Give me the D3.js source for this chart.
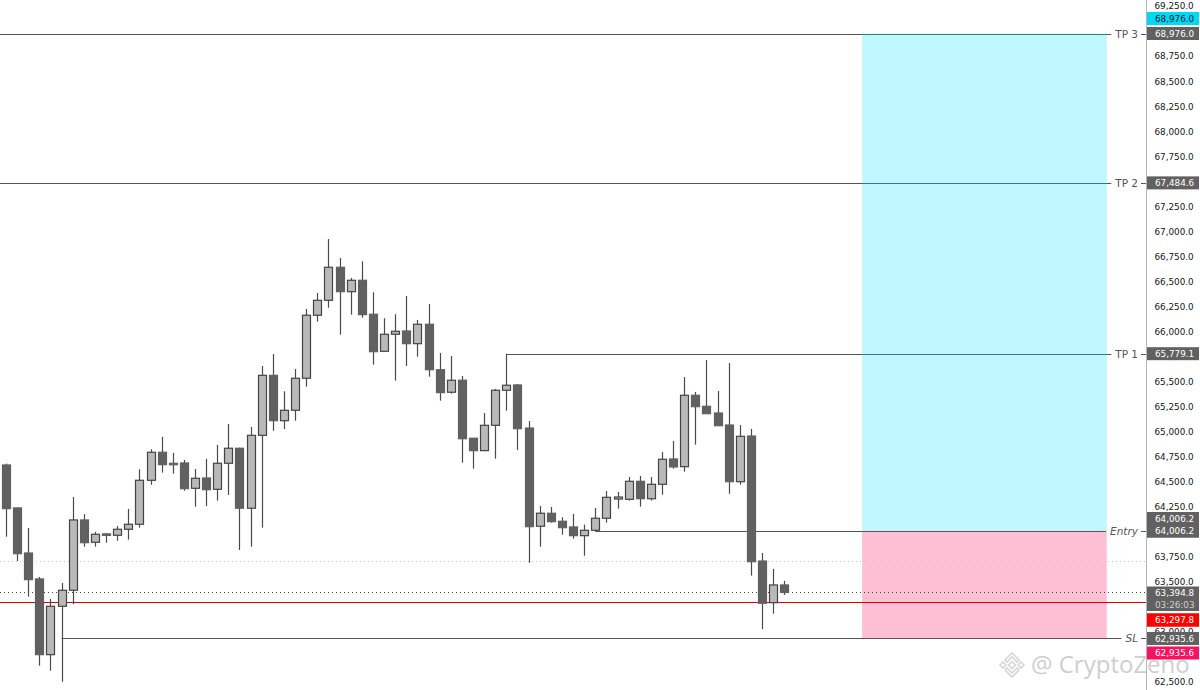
<!DOCTYPE html>
<html><head><meta charset="utf-8">
<script src="https://cdn.jsdelivr.net/npm/d3@7/dist/d3.min.js"></script>
<style>html,body{margin:0;padding:0;background:#fff;overflow:hidden}</style>
</head><body><svg id="c" width="1200" height="690"></svg>
<script>
// ---- DATA ----
const opens  = [64668,64239,63789,63530,62774,63257,63417,64119,63896,63980,63966,64026,64076,64515,64795,64685,64688,64435,64538,64425,64685,64835,64236,64964,65563,65110,65214,65534,66163,66312,66642,66398,66512,66173,65803,65973,66006,65879,66073,65619,65394,65514,64935,64811,65064,65414,65467,65037,64056,64186,64106,64049,63962,64016,64136,64328,64325,64505,64331,64475,64728,64651,65364,65254,65187,65067,64501,64957,63709,63293,63470];
const highs  = [64681,64245,64039,63550,63330,63490,64348,64176,64000,63986,64059,64229,64625,64825,64948,64788,64718,64628,64728,64868,65077,64840,65047,65656,65776,65404,65626,66225,66385,66924,66735,66535,66702,66392,66133,66173,66355,66116,66275,65786,65756,65556,64935,65187,65427,65779,65477,65107,64259,64249,64146,64179,64072,64239,64408,64398,64548,64558,64548,64798,64908,65546,65397,65716,65407,65686,65067,65027,63789,63630,63510];
const lows   = [63952,63709,63353,62664,62614,62504,63277,63852,63852,63892,63911,63922,64042,64471,64591,64581,64411,64252,64259,64312,64368,63819,63852,64042,65010,65027,65110,65450,66099,66238,65969,66169,66139,65669,65800,65510,65656,65749,65549,65310,65380,64691,64631,64811,64731,65210,64818,63692,63852,64092,63972,63932,63762,64006,64092,64232,64312,64252,64312,64371,64631,64601,64871,65180,65060,64381,64471,63563,63028,63183,63370];
const closes = [64232,63782,63523,62774,63257,63417,64119,63892,63976,63975,64026,64076,64515,64795,64671,64680,64431,64535,64421,64685,64835,64236,64964,65563,65110,65214,65534,66163,66312,66642,66398,66512,66169,65799,65973,66003,65879,66073,65619,65390,65514,64930,64811,65064,65414,65464,65030,64052,64186,64102,64042,63962,64016,64136,64345,64348,64505,64331,64475,64725,64648,65364,65250,65180,65060,64501,64954,63702,63287,63470,63394.8];

const priceTicks = [62500,62750,63000,63250,63500,63750,64000,64250,64500,64750,65000,65250,65500,65750,66000,66250,66500,66750,67000,67250,67500,67750,68000,68250,68500,68750,69000,69250];

const levelNames  = ["TP 3","TP 2","TP 1","Entry","SL"];
const levelPrices = [68976.0, 67484.6, 65779.1, 64006.2, 62935.6];
const levelStart  = [null, null, 45, 53, 5];   // candle index where the level line starts
const levelItalic = [false,false,false,true,true];

const currentPrice = 63394.8;
const countdown    = "03:26:03";
const redPrice     = 63297.8;
const greyDotPrice = 63710;
const boxStartIdx = 77, boxEndIdx = 99;
const watermark = "@ CryptoZeno";

// ---- SCALES ----
const svg = d3.select("#c");
const axisX = 1146.5;
const y = d3.scaleLinear().domain([62500, 68976]).range([682.1, 33.5]);
const x = d3.scaleLinear().domain([0, 70]).range([6, 784.3]);
const fmt = d3.format(",.1f");
const FONT = "DejaVu Sans";

// ---- Level lines (under box) ----
const labelRight = 1138;
const lblG = svg.append("g");
levelNames.forEach((n,i)=>{
  const yy = Math.round(y(levelPrices[i]))+0.5;
  const t = lblG.append("text").attr("x",labelRight).attr("y",yy).attr("dy","0.35em")
    .attr("text-anchor","end").attr("font-family",FONT).attr("font-size",10.5)
    .attr("font-style",levelItalic[i]?"italic":"normal").attr("fill","#555").text(n);
  const w = t.node().getComputedTextLength();
  const x0 = levelStart[i]==null?0:x(levelStart[i]);
  svg.append("line").attr("x1",x0).attr("x2",labelRight-w-4).attr("y1",yy).attr("y2",yy)
    .attr("stroke","#555").attr("stroke-width",1);
  svg.append("line").attr("x1",1141).attr("x2",axisX).attr("y1",yy).attr("y2",yy)
    .attr("stroke","#555").attr("stroke-width",1);
});

// ---- Position box ----
svg.append("rect").attr("x",x(boxStartIdx)).attr("width",x(boxEndIdx)-x(boxStartIdx))
  .attr("y",y(levelPrices[0])).attr("height",y(levelPrices[3])-y(levelPrices[0]))
  .attr("fill","rgb(0,225,252)").attr("fill-opacity",0.25);
svg.append("rect").attr("x",x(boxStartIdx)).attr("width",x(boxEndIdx)-x(boxStartIdx))
  .attr("y",y(levelPrices[3])).attr("height",y(levelPrices[4])-y(levelPrices[3]))
  .attr("fill","rgb(250,0,84)").attr("fill-opacity",0.25);

// ---- Price lines ----
const yCur = Math.round(y(currentPrice))+0.5;
svg.append("line").attr("x1",0).attr("x2",axisX).attr("y1",Math.round(y(greyDotPrice))+0.5).attr("y2",Math.round(y(greyDotPrice))+0.5)
  .attr("stroke","#c4c4c4").attr("stroke-dasharray","1,3");
svg.append("line").attr("x1",0).attr("x2",axisX).attr("y1",yCur).attr("y2",yCur)
  .attr("stroke","#444").attr("stroke-dasharray","1,3");
svg.append("line").attr("x1",0).attr("x2",axisX).attr("y1",Math.round(y(redPrice))+0.5).attr("y2",Math.round(y(redPrice))+0.5)
  .attr("stroke","#e00000").attr("stroke-width",1);

// ---- Candles ----
const idx = d3.range(opens.length);
const cg = svg.append("g");
cg.selectAll("line.w").data(idx).join("line")
  .attr("x1",i=>Math.round(x(i))+0.5).attr("x2",i=>Math.round(x(i))+0.5)
  .attr("y1",i=>y(highs[i])).attr("y2",i=>y(lows[i]))
  .attr("stroke","#4a4a4a").attr("stroke-width",1.2);
cg.selectAll("rect.b").data(idx).join("rect")
  .attr("x",i=>Math.round(x(i))+0.5-4).attr("width",8)
  .attr("y",i=>y(Math.max(opens[i],closes[i])))
  .attr("height",i=>Math.max(1.5,Math.abs(y(opens[i])-y(closes[i]))))
  .attr("fill",i=>closes[i]>=opens[i]?"#b9b9b9":"#616161")
  .attr("stroke",i=>closes[i]>=opens[i]?"#444":"#616161")
  .attr("stroke-width",1.2);

// ---- Badges layout (center y, height, fill, text, text colour) ----
const badges = [
  [18.5,13,"#00d8f8",fmt(levelPrices[0]),"#131722"],
  [y(levelPrices[0]),13,"#616161",fmt(levelPrices[0]),"#fff"],
  [y(levelPrices[1]),13,"#616161",fmt(levelPrices[1]),"#fff"],
  [y(levelPrices[2]),13,"#616161",fmt(levelPrices[2]),"#fff"],
  [518.5,13,"#616161",fmt(levelPrices[3]),"#fff"],
  [y(levelPrices[3]),13,"#616161",fmt(levelPrices[3]),"#fff"],
  [598.75,24.5,"#616161",null,null],
  [620,13.5,"#ff0000",fmt(redPrice),"#fff"],
  [y(levelPrices[4]),13,"#616161",fmt(levelPrices[4]),"#fff"],
  [653,13,"#f7125f",fmt(levelPrices[4]),"#fff"]
];

// ---- Right axis ----
svg.append("line").attr("x1",axisX).attr("x2",axisX).attr("y1",0).attr("y2",690)
  .attr("stroke","#b2b5be").attr("stroke-width",1);
const covered = v => badges.some(b => y(v) > b[0]-b[1]/2+2 && y(v) < b[0]+b[1]/2+2);
const shownTicks = priceTicks.filter(v => !covered(v));
const ax = svg.append("g").attr("transform",`translate(${axisX},0)`)
  .call(d3.axisRight(y).tickValues(shownTicks).tickFormat(fmt).tickSize(0).tickPadding(8));
ax.select(".domain").remove();
ax.selectAll("text").attr("font-family",FONT).attr("font-size",8.8).attr("fill","#131722");

badges.forEach(([yc,h,fill,txt,tf])=>{
  svg.append("rect").attr("x",axisX+0.5).attr("y",yc-h/2).attr("width",52).attr("height",h).attr("fill",fill);
  if(txt) svg.append("text").attr("x",axisX+8.5).attr("y",yc).attr("dy","0.35em")
    .attr("font-family",FONT).attr("font-size",8.8).attr("fill",tf).text(txt);
});
svg.append("text").attr("x",axisX+8.5).attr("y",593).attr("dy","0.35em").attr("font-family",FONT).attr("font-size",8.8).attr("fill","#fff").text(fmt(currentPrice));
svg.append("text").attr("x",axisX+8.5).attr("y",605).attr("dy","0.35em").attr("font-family",FONT).attr("font-size",8.8).attr("fill","#d0d0d0").text(countdown);

// ---- Watermark ----
const wm = svg.append("g").attr("opacity",0.55);
const lg = wm.append("g").attr("transform","translate(1012,665)").attr("fill","none").attr("stroke","#b5b5b5").attr("stroke-width",1.6);
const dia = (cx,cy,r)=>`M${cx},${cy-r}L${cx+r},${cy}L${cx},${cy+r}L${cx-r},${cy}Z`;
lg.append("path").attr("d",dia(0,0,3.5));
lg.append("path").attr("d",dia(-9,0,3)); lg.append("path").attr("d",dia(9,0,3));
lg.append("path").attr("d","M-7,-5L0,-12L7,-5L5,-3L0,-8L-5,-3Z");
lg.append("path").attr("d","M-7,5L0,12L7,5L5,3L0,8L-5,3Z");
wm.append("text").attr("x",1031).attr("y",665).attr("dy","0.35em").attr("font-family","Open Sans")
  .attr("font-size",24).attr("fill","#a8a8a8").text(watermark);
</script></body></html>
